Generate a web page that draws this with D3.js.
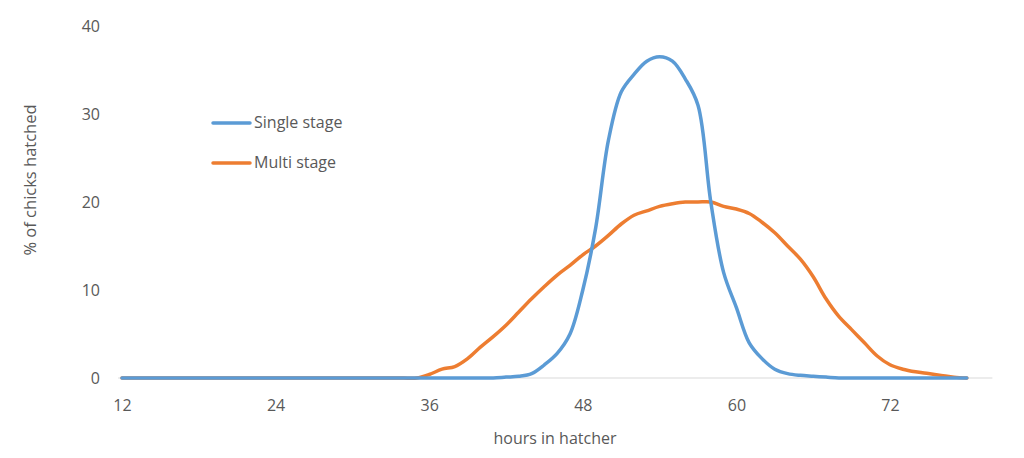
<!DOCTYPE html><html><head><meta charset="utf-8"><script src="https://cdn.jsdelivr.net/npm/d3@7"></script>
<style>body{margin:0;background:#fff}text{font-family:"Open Sans",sans-serif;fill:#595959}</style></head><body><svg id="c" width="1024" height="458"></svg><script>
const hours=d3.range(12,79);
const singleVals=[0,0,0,0,0,0,0,0,0,0,0,0,0,0,0,0,0,0,0,0,0,0,0,0,0,0,0,0,0,0,0.1,0.2,0.5,1.5,2.8,5,10,17,27,32.5,34.5,36,36.5,36,34,31,20,12,8,4,2.2,1,0.5,0.3,0.2,0.1,0,0,0,0,0,0,0,0,0,0,0];
const multiVals=[0,0,0,0,0,0,0,0,0,0,0,0,0,0,0,0,0,0,0,0,0,0,0,0,0.4,1,1.3,2.2,3.5,4.7,6,7.5,9,10.4,11.7,12.8,14,15,16.2,17.5,18.5,19,19.5,19.8,20,20,20,19.5,19.2,18.7,17.7,16.5,15,13.5,11.5,9,7,5.5,4,2.5,1.5,1,0.7,0.5,0.3,0.1,0];
const xTicks=[12,24,36,48,60,72], yTicks=[0,10,20,30,40];
const series=[{name:"Single stage",vals:singleVals,color:"#5b9bd5"},{name:"Multi stage",vals:multiVals,color:"#ed7d31"}];
const svg=d3.select("#c");
const x=d3.scaleLinear().domain([12,72]).range([122,890]);
const y=d3.scaleLinear().domain([0,40]).range([378,26]);
svg.append("line").attr("x1",x(11.7)).attr("x2",x(80)).attr("y1",y(0)).attr("y2",y(0)).attr("stroke","#d9d9d9");
const xa=svg.append("g").attr("transform","translate(0,378)").call(d3.axisBottom(x).tickValues(xTicks).tickSize(0).tickPadding(22));
xa.select(".domain").remove();
const ya=svg.append("g").attr("transform","translate(100,0)").call(d3.axisLeft(y).tickValues(yTicks).tickSize(0).tickPadding(0));
ya.select(".domain").remove();
svg.selectAll(".tick text").style("font-size","16px").style("fill","#595959");
const line=d3.line().x((d,i)=>x(hours[i])).y(d=>y(d)).curve(d3.curveCatmullRom.alpha(0.5));
series.slice().reverse().forEach(s=>svg.append("path").attr("d",line(s.vals)).attr("fill","none").attr("stroke",s.color).attr("stroke-width",3.5).attr("stroke-linecap","round"));
series.forEach((s,i)=>{const ly=123+i*40;
svg.append("line").attr("x1",213).attr("x2",250).attr("y1",ly).attr("y2",ly).attr("stroke",s.color).attr("stroke-width",3.5).attr("stroke-linecap","round");
svg.append("text").attr("x",254).attr("y",ly+5).style("font-size","16px").text(s.name);});
svg.append("text").attr("x",555).attr("y",444).attr("text-anchor","middle").style("font-size","16px").text("hours in hatcher");
svg.append("text").attr("transform","translate(36,180) rotate(-90)").attr("text-anchor","middle").style("font-size","16.5px").text("% of chicks hatched");
</script></body></html>
